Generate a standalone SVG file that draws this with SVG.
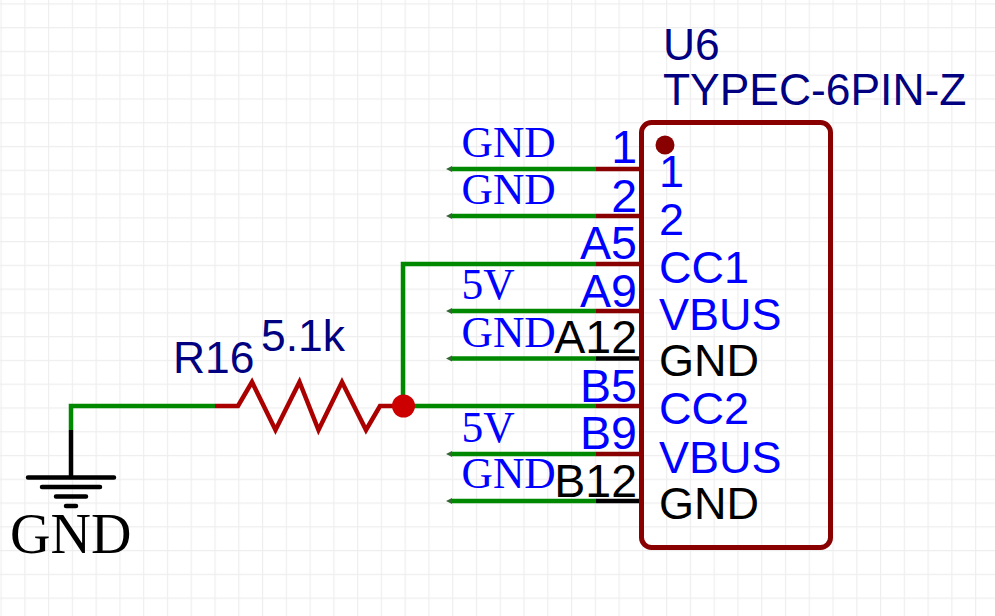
<svg xmlns="http://www.w3.org/2000/svg" width="995" height="616" viewBox="0 0 995 616">
<style>
.wire{fill:none;stroke:#008800;stroke-width:4.5}
.pin{fill:none;stroke:#880000;stroke-width:4.5}
.pinb{fill:none;stroke:#000;stroke-width:4.5}
.net{font-family:"Liberation Serif",serif;font-size:43.500px;fill:#0000ff}
.pn{font-family:"Liberation Sans",sans-serif;font-size:46.500px;text-anchor:end;fill:#0000ff}
.in{font-family:"Liberation Sans",sans-serif;font-size:45px;fill:#0000ff}
.k{fill:#000}
.des{font-family:"Liberation Sans",sans-serif;font-size:44.400px;fill:#000080}
</style>
<defs>
<pattern id="g" x="0.5" y="3.3" width="23.77" height="23.77" patternUnits="userSpaceOnUse">
<path d="M0.5 0V23.77M0 0.5H23.77" fill="none" stroke="#eeeeee" stroke-width="1.4"/>
</pattern>
<marker id="a" markerUnits="userSpaceOnUse" markerWidth="8" markerHeight="8" refX="0" refY="4" orient="auto">
<path d="M6 4L0 1V7Z" fill="#336633"/>
</marker>
</defs>
<rect width="995" height="616" fill="#ffffff"/>
<rect width="995" height="616" fill="url(#g)"/>
<g id="connectors">
<path class="wire" d="M596 169H452" marker-end="url(#a)"/>
<path class="wire" d="M596 216H452" marker-end="url(#a)"/>
<path class="wire" d="M596 311H452" marker-end="url(#a)"/>
<path class="wire" d="M596 358.500H452" marker-end="url(#a)"/>
<path class="wire" d="M596 454H452" marker-end="url(#a)"/>
<path class="wire" d="M596 501H452" marker-end="url(#a)"/>
<path class="wire" d="M596 264H403V406"/>
<path class="wire" d="M403 406H596"/>
<path class="wire" d="M215 406H71V430"/>
</g>
<g id="U6">
<path class="pin" d="M596 169H640M596 216H640M596 264H640M596 311H640M596 406H640M596 454H640"/>
<path class="pinb" d="M596 358.500H640M596 501H640"/>
<rect x="641.500" y="122.500" width="189" height="425" rx="10" fill="none" stroke="#880000" stroke-width="5"/>
<circle cx="665" cy="145" r="9.500" fill="#880000"/>
<text class="des" x="663" y="60">U6</text>
<text class="des" x="663" y="105">TYPEC-6PIN-Z</text>
<text class="pn" x="637" y="163">1</text>
<text class="pn" x="637" y="212">2</text>
<text class="pn" x="637" y="259">A5</text>
<text class="pn" x="637" y="307">A9</text>
<text class="pn k" x="637" y="353">A12</text>
<text class="pn" x="637" y="402">B5</text>
<text class="pn" x="637" y="449">B9</text>
<text class="pn k" x="637" y="497">B12</text>
<text class="in" x="659" y="187">1</text>
<text class="in" x="659" y="235">2</text>
<text class="in" x="659" y="283">CC1</text>
<text class="in" x="659" y="330">VBUS</text>
<text class="in k" x="659" y="376">GND</text>
<text class="in" x="659" y="424">CC2</text>
<text class="in" x="659" y="473">VBUS</text>
<text class="in k" x="659" y="519">GND</text>
</g>
<g id="nets">
<text class="net" x="461.500" y="157">GND</text>
<text class="net" x="461.500" y="204">GND</text>
<text class="net" x="461.500" y="299">5V</text>
<text class="net" x="461.500" y="347">GND</text>
<text class="net" x="461.500" y="442">5V</text>
<text class="net" x="461.500" y="488">GND</text>
</g>
<g id="R16">
<path d="M215 406H238L252 382L275.500 430L299.500 382L318.500 430L342 382L366 430L380 406H403" fill="none" stroke="#aa0000" stroke-width="4.500" stroke-linejoin="miter"/>
<text class="des" x="173" y="373">R16</text>
<text class="des" x="261" y="351">5.1k</text>
</g>
<g id="junction"><circle cx="403.500" cy="406" r="11.500" fill="#cc0000"/></g>
<g id="GND">
<path d="M71 430V477" fill="none" stroke="#000" stroke-width="4.500"/>
<path d="M28 477.500H114M42 487H100M56 496.500H86M66 506H76" fill="none" stroke="#000" stroke-width="4.500" stroke-linecap="round"/>
<text x="10" y="553" font-family="Liberation Serif, serif" font-size="56" fill="#000">GND</text>
</g>
</svg>
